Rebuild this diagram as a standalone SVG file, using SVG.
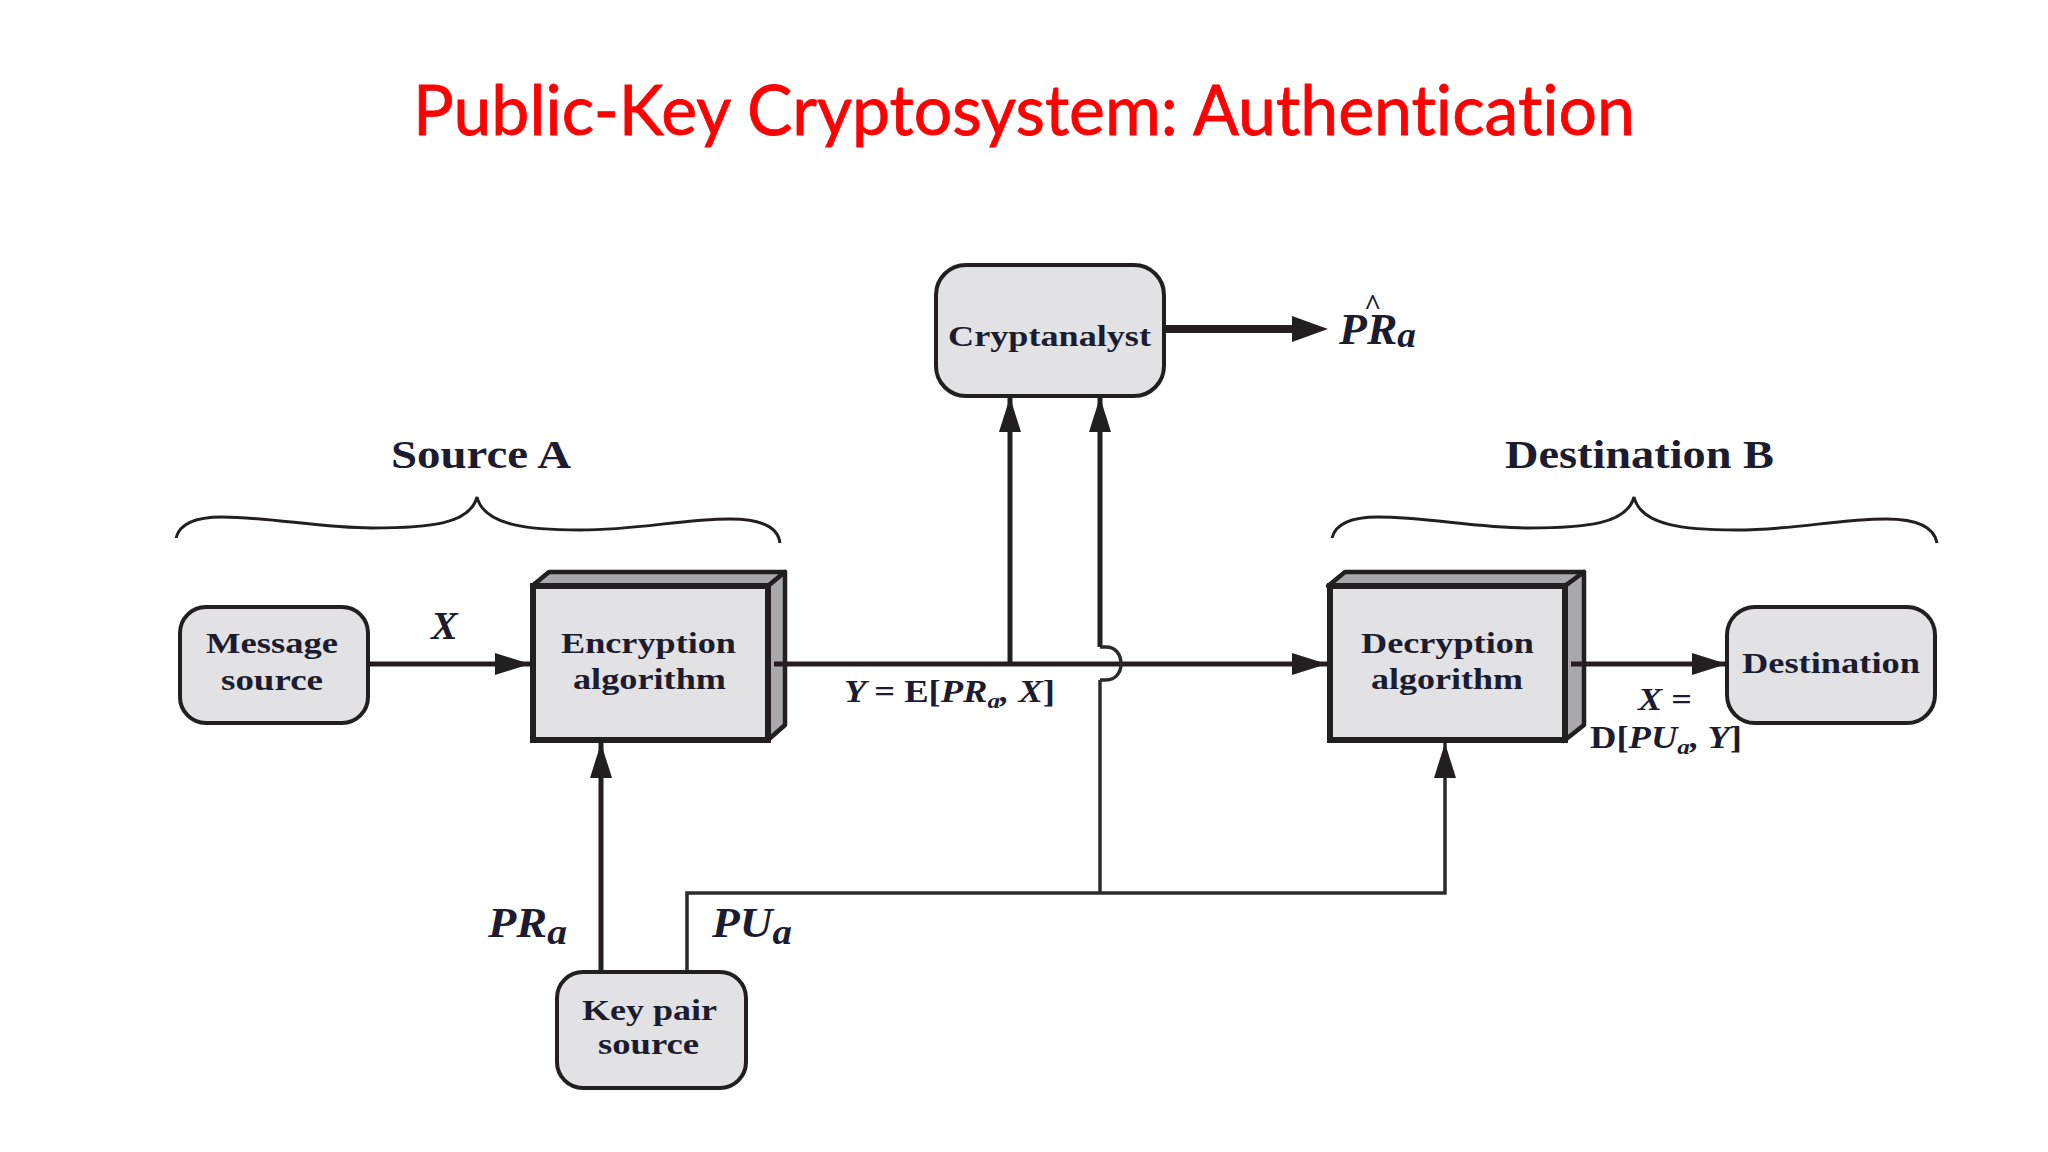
<svg xmlns="http://www.w3.org/2000/svg" width="2048" height="1152" viewBox="0 0 2048 1152">
<defs>
<marker id="ah" markerUnits="userSpaceOnUse" markerWidth="36" markerHeight="26" refX="35" refY="13" orient="auto"><path d="M0,2 L35,13 L0,24 Z" fill="#231f20"/></marker>
</defs>
<style>
.box{fill:#e2e2e5;stroke:#231f20;stroke-width:4}
.front{fill:#e2e2e5;stroke:#231f20;stroke-width:6}
.side{fill:#a9a9ab;stroke:#231f20;stroke-width:4.5;stroke-linejoin:round}
.c{fill:none;stroke:#231f20;stroke-width:5}
.t{fill:none;stroke:#2b2b2b;stroke-width:3.5}
.brace{fill:none;stroke:#231f20;stroke-width:3}
text{font-family:"Liberation Serif","Times New Roman",serif;font-weight:bold;fill:#1c1c30;font-size:30px}
.i{font-style:italic}
.n{font-style:normal}
.lab{font-size:40px}
.title{font-family:Lato,"Liberation Sans",sans-serif;font-weight:normal;fill:#ff0000;font-size:69px;font-variant-ligatures:none;stroke:#ff0000;stroke-width:.8px}
</style>
<rect width="2048" height="1152" fill="#ffffff"/>
<text class="title" x="413" y="135" textLength="1222" lengthAdjust="spacingAndGlyphs">Public-Key Cryptosystem: Authentication</text>

<g id="brace-a"><path class="brace" d="M176,538 C180,522 198,517 222,517 C270,517 320,528 372,528 C430,528 470,524 477,497 C484,526 530,530 580,530 C640,530 680,519 730,519 C760,519 778,526 780,543"/></g>
<g id="brace-b"><path class="brace" d="M1332,538 C1336,522 1354,517 1378,517 C1426,517 1476,528 1528,528 C1586,528 1627,524 1634,497 C1641,526 1686,530 1736,530 C1796,530 1836,519 1886,519 C1916,519 1934,526 1937,543"/></g>

<text id="label-source-a" class="lab" x="391" y="468" textLength="180" lengthAdjust="spacingAndGlyphs">Source A</text>
<text id="label-dest-b" class="lab" x="1505" y="468" textLength="269" lengthAdjust="spacingAndGlyphs">Destination B</text>

<g id="message-source">
<rect class="box" x="180" y="607" width="188" height="116" rx="26"/>
<text x="206" y="653" textLength="132" lengthAdjust="spacingAndGlyphs">Message</text>
<text x="221" y="690" textLength="102" lengthAdjust="spacingAndGlyphs">source</text>
</g>

<g id="encryption">
<path class="side" d="M532,586 L549,572 H785 L768,586 Z"/>
<path class="side" d="M768,586 L785,572 V725 L768,740 Z"/>
<rect class="front" x="533" y="586" width="235" height="154"/>
<text x="561" y="653" textLength="175" lengthAdjust="spacingAndGlyphs">Encryption</text>
<text x="573" y="689" textLength="153" lengthAdjust="spacingAndGlyphs">algorithm</text>
</g>

<g id="decryption">
<path class="side" d="M1328,586 L1345,572 H1584 L1565,586 Z"/>
<path class="side" d="M1565,586 L1584,572 V725 L1565,740 Z"/>
<rect class="front" x="1330" y="586" width="235" height="154"/>
<text x="1361" y="653" textLength="173" lengthAdjust="spacingAndGlyphs">Decryption</text>
<text x="1371" y="689" textLength="152" lengthAdjust="spacingAndGlyphs">algorithm</text>
</g>

<g id="destination">
<rect class="box" x="1727" y="607" width="208" height="116" rx="28"/>
<text x="1742" y="673" textLength="178" lengthAdjust="spacingAndGlyphs">Destination</text>
</g>

<g id="cryptanalyst">
<rect class="box" x="936" y="265" width="228" height="131" rx="30"/>
<text x="948" y="346" textLength="203" lengthAdjust="spacingAndGlyphs">Cryptanalyst</text>
</g>

<g id="key-pair-source">
<rect class="box" x="557" y="972" width="189" height="116" rx="26"/>
<text x="582" y="1020" textLength="135" lengthAdjust="spacingAndGlyphs">Key pair</text>
<text x="598" y="1054" textLength="101" lengthAdjust="spacingAndGlyphs">source</text>
</g>

<g id="connectors">
<path class="c" d="M368,664 H530" marker-end="url(#ah)"/>
<path class="c" d="M774,664 H1327" marker-end="url(#ah)"/>
<path class="c" d="M1571,664 H1727" marker-end="url(#ah)"/>
<path class="c" d="M1010,664 V397" marker-end="url(#ah)"/>
<path class="c" d="M1100,647 V397" marker-end="url(#ah)"/>
<path class="t" d="M1100,647 H1106 C1116,647 1121,655 1121,664 C1121,672 1116,680 1106,680 H1100"/>
<path class="t" d="M1100,680 V893"/>
<path class="c" d="M601,971 V743" marker-end="url(#ah)"/>
<path class="t" d="M687,971 V893 H1445 V743" marker-end="url(#ah)"/>
<path d="M1164,329 H1295" fill="none" stroke="#231f20" stroke-width="8"/>
<path d="M1292,316 L1328,329 L1292,342 Z" fill="#231f20"/>
</g>

<text class="i" x="431" y="639" style="font-size:40px">X</text>
<text class="i" x="844" y="702" textLength="211" lengthAdjust="spacingAndGlyphs" style="font-size:32px">Y <tspan class="n">= E[</tspan>PR<tspan dy="6" style="font-size:22px">a</tspan><tspan dy="-6">, X</tspan><tspan class="n">]</tspan></text>
<text class="i" x="1638" y="710" textLength="54" lengthAdjust="spacingAndGlyphs" style="font-size:32px">X <tspan class="n">=</tspan></text>
<text class="i" x="1590" y="748" textLength="152" lengthAdjust="spacingAndGlyphs" style="font-size:32px"><tspan class="n">D[</tspan>PU<tspan dy="6" style="font-size:22px">a</tspan><tspan dy="-6">, Y</tspan><tspan class="n">]</tspan></text>
<text class="i" x="488" y="937" textLength="79" lengthAdjust="spacingAndGlyphs" style="font-size:42px">PR<tspan dy="7" style="font-size:36px">a</tspan></text>
<text class="i" x="712" y="937" textLength="80" lengthAdjust="spacingAndGlyphs" style="font-size:42px">PU<tspan dy="7" style="font-size:36px">a</tspan></text>
<text class="i" x="1339" y="344" textLength="77" lengthAdjust="spacingAndGlyphs" style="font-size:44px">PR<tspan dy="3" style="font-size:36px">a</tspan></text>
<text x="1364" y="315" style="font-size:30px">^</text>
</svg>
